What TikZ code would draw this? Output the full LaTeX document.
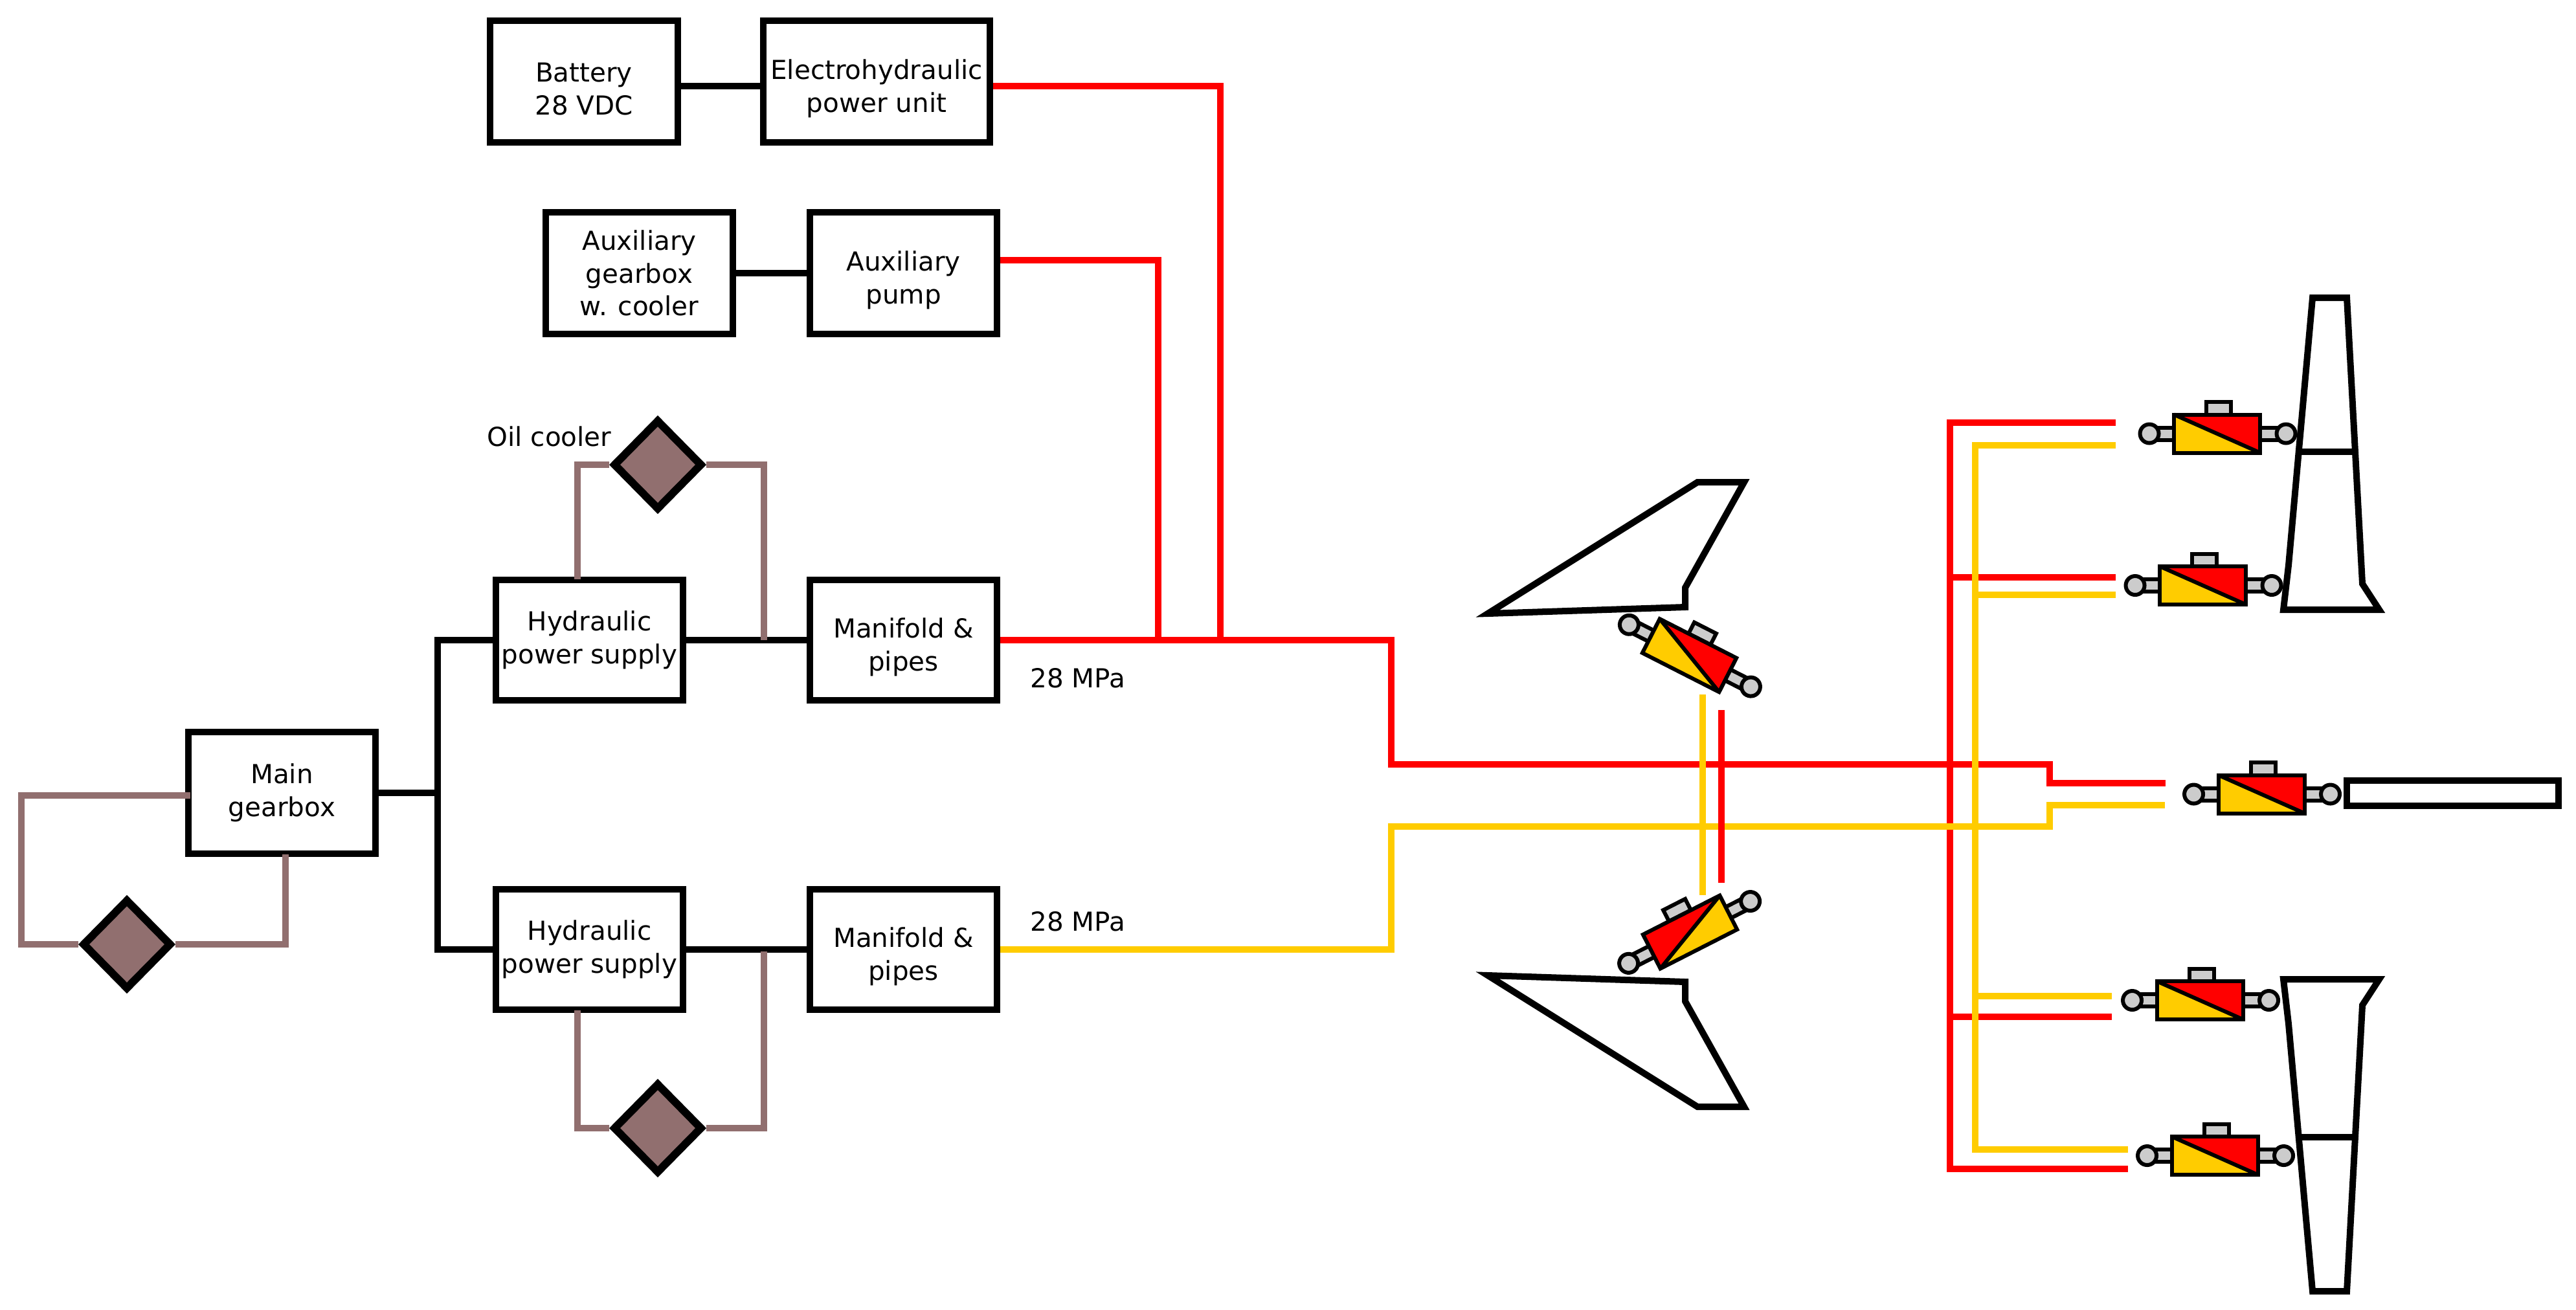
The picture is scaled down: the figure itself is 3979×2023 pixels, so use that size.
\documentclass[tikz,border=0pt]{standalone}
\usepackage{fontspec}
\setmainfont{DejaVu Sans}
\usetikzlibrary{shapes.geometric}
\definecolor{hydred}{HTML}{FF0000}
\definecolor{hydyellow}{HTML}{FFCC00}
\definecolor{oilbrown}{HTML}{916F6F}
\definecolor{rodgray}{HTML}{CCCCCC}
\newcommand{\lowtext}{\rule{0pt}{15pt}}
\tikzset{
    box/.style={draw,line width=1mm,minimum width=2.89cm,minimum height=1.88cm,inner sep=0pt,align=center,font=\fontsize{11.5}{14.4}\selectfont},
    cooler/.style={draw,diamond,fill=oilbrown,line width=1.2mm,minimum width=1.38cm,minimum height=1.4cm,inner sep=0pt},
    lbl/.style={inner sep=0pt,font=\fontsize{11.5}{14.4}\selectfont},
    wire/.style={line width=1mm},
    oilwire/.style={line width=1mm,oilbrown},
    redwire/.style={line width=1mm,hydred},
    yellowwire/.style={line width=1mm,hydyellow},
    surface/.style={draw,line width=1mm,fill=white},
    actline/.style={draw,line width=0.6mm},
    actuator/.pic={
        \draw[actline,fill=rodgray] (-104,-9.5) rectangle (106,9.5);
        \draw[actline,fill=rodgray] (-16.5,-49) rectangle (21.5,-29.5);
        \fill[hydyellow] (-66.5,-29.5) -- (66.5,29.5) -- (-66.5,29.5) -- cycle;
        \fill[hydred] (-66.5,-29.5) -- (66.5,-29.5) -- (66.5,29.5) -- cycle;
        \draw[actline] (-66.5,-29.5) rectangle (66.5,29.5);
        \draw[actline] (-66.5,-29.5) -- (66.5,29.5);
        \draw[actline,fill=rodgray] (-104.5,0) circle (14.5);
        \draw[actline,fill=rodgray] (106.5,0) circle (14.5);
    }
}
\begin{document}
\begin{tikzpicture}[x=0.01cm,y=-0.01cm]
\useasboundingbox (0,0) rectangle (3979,2023);

% power side
\node[box] (batt) at (902,126) {\lowtext Battery\\28 VDC};
\node[box,minimum width=3.5cm] (epu) at (1354,126) {\lowtext Electrohydraulic\\power unit};
\node[box] (agb) at (987.5,422) {Auxiliary\\gearbox\\w. cooler};
\node[box] (apu) at (1395.5,422) {\lowtext Auxiliary\\pump};
\node[box,minimum height=1.86cm] (hyd1) at (910.5,989) {Hydraulic\\power supply};
\node[box,minimum height=1.86cm] (hyd2) at (910.5,1467) {Hydraulic\\power supply};
\node[box,minimum height=1.86cm] (man1) at (1395.5,989) {\lowtext Manifold \&\\pipes};
\node[box,minimum height=1.86cm] (man2) at (1395.5,1467) {\lowtext Manifold \&\\pipes};
\node[box] (main) at (435.5,1225) {Main\\gearbox};

\node[cooler] (cool1) at (1016,718) {};
\node[cooler] (cool2) at (1016,1743) {};
\node[cooler] (cool3) at (196,1459) {};
\node[lbl,anchor=east] (coollbl) at (945,674) {Oil cooler};
\node[lbl,anchor=west] (pres1) at (1591,1048) {28 MPa};
\node[lbl,anchor=west] (pres2) at (1591,1424) {28 MPa};

\foreach \nm/\x/\y in {fork/676/1225, oil1/892/895, tap1/1180/989, oil2/892/1561, tap2/1180/1470,
    oil3/441/1320, oil4/294/1228.5, oil5/33/1228.5, redtap1/1885/989, redtap2/1789/989,
    redknee/2149/1181, redstep/3166/1181, redend/3345/1210,
    yelknee/2149/1277, yelstep/3166/1277, yelend/3344/1244,
    rb1/3268/653, rb2/3268/892, rb3/3262/1571, rb4/3287/1806, bustopr/3012/653, busbotr/3012/1806,
    yb1/3268/688, yb2/3268/919, yb3/3262/1539, yb4/3287/1776, bustopy/3051/688, busboty/3051/1776,
    yeltop/2630/1073, yelbot/2630/1383, redtop/2659/1097, redbot/2659/1364} {
    \coordinate (\nm) at (\x,\y);
}

\draw[wire] ([yshift=-2pt]batt.east) -- ([yshift=-2pt]epu.west);
\draw[wire] (agb.east) -- (apu.west);
\draw[wire] (main.east) -- (fork);
\draw[wire] (hyd1.west) -| (fork) |- (hyd2.west);
\draw[wire] (hyd1.east) -- (man1.west);
\draw[wire] (hyd2.east) -- (man2.west);

\draw[oilwire] (oil1) |- (cool1.west);
\draw[oilwire] (cool1.east) -| (tap1);
\draw[oilwire] (oil2) |- (cool2.west);
\draw[oilwire] (cool2.east) -| (tap2);
\draw[oilwire] (oil4) -- (oil5) |- (cool3.west);
\draw[oilwire] (cool3.east) -| (oil3);

% hydraulic lines
\draw[redwire] ([yshift=-2pt]epu.east) -| (redtap1);
\draw[redwire] ([yshift=5.7pt]apu.east) -| (redtap2);
\draw[redwire] (man1.east) -| (redknee) -- (redstep) |- (redend);
\draw[redwire] (rb1) -- (bustopr) -- (busbotr) -- (rb4);
\draw[redwire] (rb2) -- (rb2 -| bustopr);
\draw[redwire] (rb3) -- (rb3 -| bustopr);
\draw[yellowwire] (man2.east) -| (yelknee) -- (yelstep) |- (yelend);
\draw[yellowwire] (yb1) -- (bustopy) -- (busboty) -- (yb4);
\draw[yellowwire] (yb2) -- (yb2 -| bustopy);
\draw[yellowwire] (yb3) -- (yb3 -| bustopy);
\draw[yellowwire] (yeltop) -- (yelbot);
\draw[redwire] (redtop) -- (redbot);

% control surfaces
\draw[surface] (2298,948) -- (2622,745) -- (2694,745) -- (2603,908) -- (2603,938) -- cycle;
\draw[surface] (2298,1507) -- (2622,1710) -- (2694,1710) -- (2603,1547) -- (2603,1517) -- cycle;
\draw[surface] (3572,460) -- (3625,460) -- (3649,902) -- (3675,942) -- (3527,942) -- (3535,873) -- cycle;
\draw[wire] (3552,698) -- (3636,698);
\draw[surface] (3572,1995) -- (3625,1995) -- (3649,1553) -- (3675,1513) -- (3527,1513) -- (3535,1582) -- cycle;
\draw[wire] (3552,1757) -- (3636,1757);
\draw[surface] (3625,1206) rectangle (3952,1245);

\foreach \ax/\ay in {3424.5/670, 3402.5/904.5, 3493/1227, 3398/1545.5, 3421/1785.5} {
    \pic at (\ax,\ay) {actuator};
}
\pic[rotate=-27] at (2609.5,1012.7) {actuator};
\pic[rotate=27,xscale=-1] at (2610.5,1440) {actuator};
\end{tikzpicture}
\end{document}
